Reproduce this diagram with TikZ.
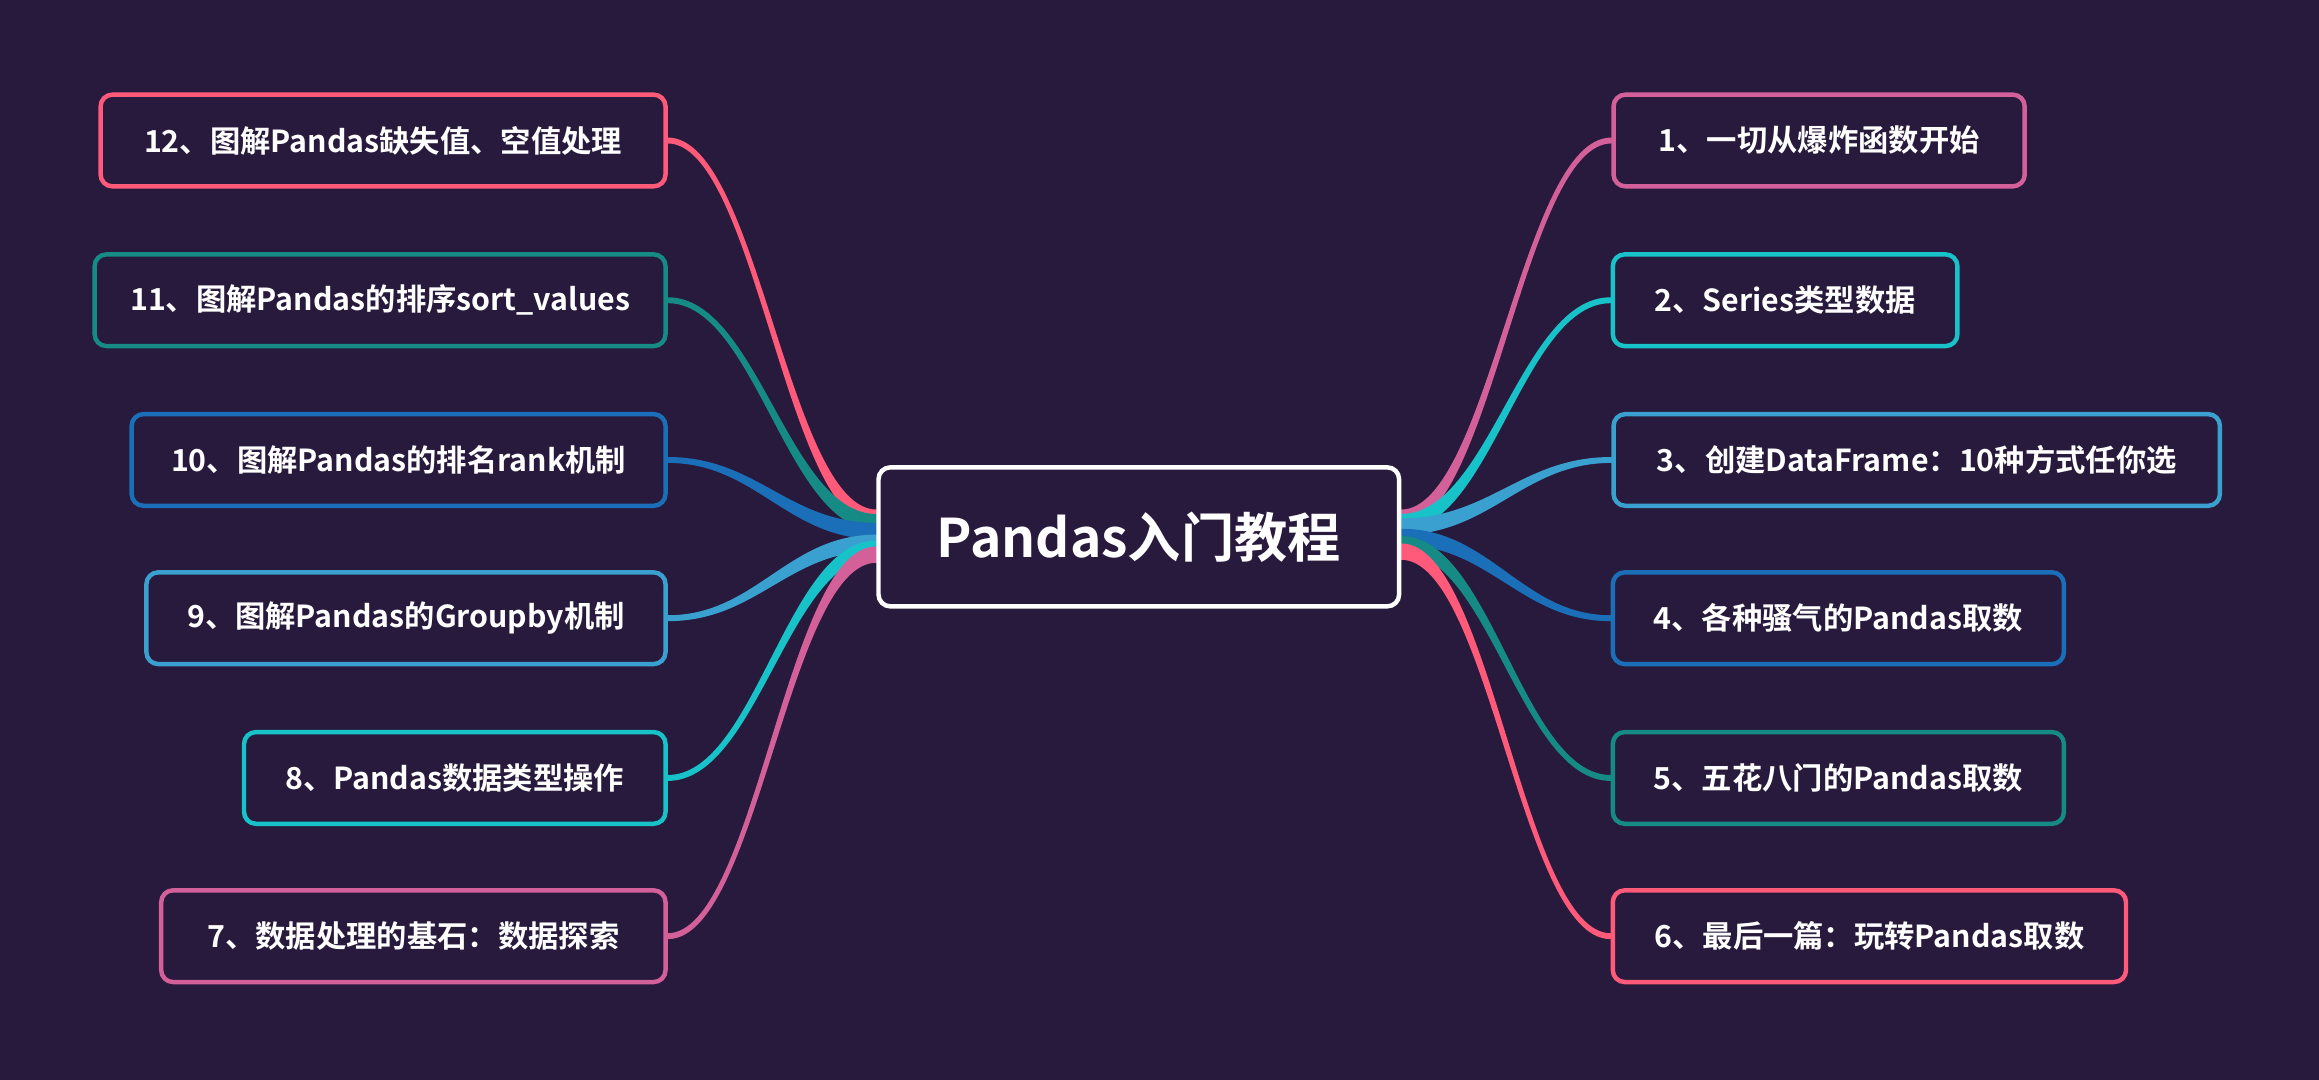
\documentclass[tikz,border=0pt]{standalone}
\usepackage{fontspec}
\setmainfont{Noto Sans CJK SC}[BoldFont={* Bold}]
\usetikzlibrary{calc}
\pgfdeclarelayer{bgl}
\pgfsetlayers{bgl,main}
\definecolor{bg}{HTML}{281A3C}
\definecolor{cpink}{HTML}{D4609A}
\definecolor{ccyan}{HTML}{17C3C9}
\definecolor{clblue}{HTML}{3AA0D0}
\definecolor{cblue}{HTML}{1A6FB8}
\definecolor{cteal}{HTML}{168A84}
\definecolor{cred}{HTML}{FF5A7A}
\begin{document}
\begin{tikzpicture}[x=1pt,y=-1pt,
  leaf/.style={draw=#1,line width=3pt,rounded corners=8pt,fill=bg,text=white,font=\fontsize{20.5}{24}\selectfont\bfseries,minimum height=62pt,inner sep=0pt},
  link/.style={fill=#1,draw=#1,line width=2pt,line join=round}]
\begin{pgfonlayer}{bgl}
\fill[bg] (0,0) rectangle (1568,730);
\end{pgfonlayer}
\useasboundingbox (0,0) rectangle (1568,730);
\node[draw=white,line width=3pt,rounded corners=8pt,fill=bg,text=white,font=\fontsize{36}{40}\selectfont\bfseries,minimum width=352pt,minimum height=94pt] (c) at (770,363) {Pandas入门教程};
% right nodes
\node[leaf=cpink,minimum width=278pt] (r1) at (1230,95) {1、一切从爆炸函数开始};
\node[leaf=ccyan,minimum width=233pt] (r2) at (1207,203) {2、Series类型数据};
\node[leaf=clblue,minimum width=410pt] (r3) at (1296,311) {3、创建DataFrame：10种方式任你选};
\node[leaf=cblue,minimum width=305pt] (r4) at (1243,418) {4、各种骚气的Pandas取数};
\node[leaf=cteal,minimum width=305pt] (r5) at (1243,526) {5、五花八门的Pandas取数};
\node[leaf=cred,minimum width=347pt] (r6) at (1264,633) {6、最后一篇：玩转Pandas取数};
% left nodes
\node[leaf=cred,minimum width=382pt] (l12) at (259,95) {12、图解Pandas缺失值、空值处理};
\node[leaf=cteal,minimum width=386pt] (l11) at (257,203) {11、图解Pandas的排序sort\_values};
\node[leaf=cblue,minimum width=361pt] (l10) at (269.5,311) {10、图解Pandas的排名rank机制};
\node[leaf=clblue,minimum width=351pt] (l9) at (274.5,418) {9、图解Pandas的Groupby机制};
\node[leaf=ccyan,minimum width=285pt] (l8) at (307.5,526) {8、Pandas数据类型操作};
\node[leaf=cpink,minimum width=341pt] (l7) at (279.5,633) {7、数据处理的基石：数据探索};
% connectors (tapered)
\begin{pgfonlayer}{bgl}
\foreach \n/\col/\dy in {r1/cpink/-13,r2/ccyan/-10,r3/clblue/-7,r4/cblue/0,r5/cteal/5,r6/cred/10}{
  \path[link=\col] ($(c.east)+(0,\dy-4.5)$) .. controls ($(c.east)+(60,\dy-4.5)$) and ($(\n.west)+(-60,-1)$) .. ($(\n.west)+(0,-1)$)
    -- ($(\n.west)+(0,1)$) .. controls ($(\n.west)+(-60,1)$) and ($(c.east)+(60,\dy+4.5)$) .. ($(c.east)+(0,\dy+4.5)$) -- cycle;
}
\foreach \n/\col/\dy in {l12/cred/-13,l11/cteal/-10,l10/cblue/-4,l9/clblue/4,l8/ccyan/8,l7/cpink/12}{
  \path[link=\col] ($(c.west)+(0,\dy-4.5)$) .. controls ($(c.west)+(-60,\dy-4.5)$) and ($(\n.east)+(60,-1)$) .. ($(\n.east)+(0,-1)$)
    -- ($(\n.east)+(0,1)$) .. controls ($(\n.east)+(60,1)$) and ($(c.west)+(-60,\dy+4.5)$) .. ($(c.west)+(0,\dy+4.5)$) -- cycle;
}
\end{pgfonlayer}
\end{tikzpicture}
\end{document}
